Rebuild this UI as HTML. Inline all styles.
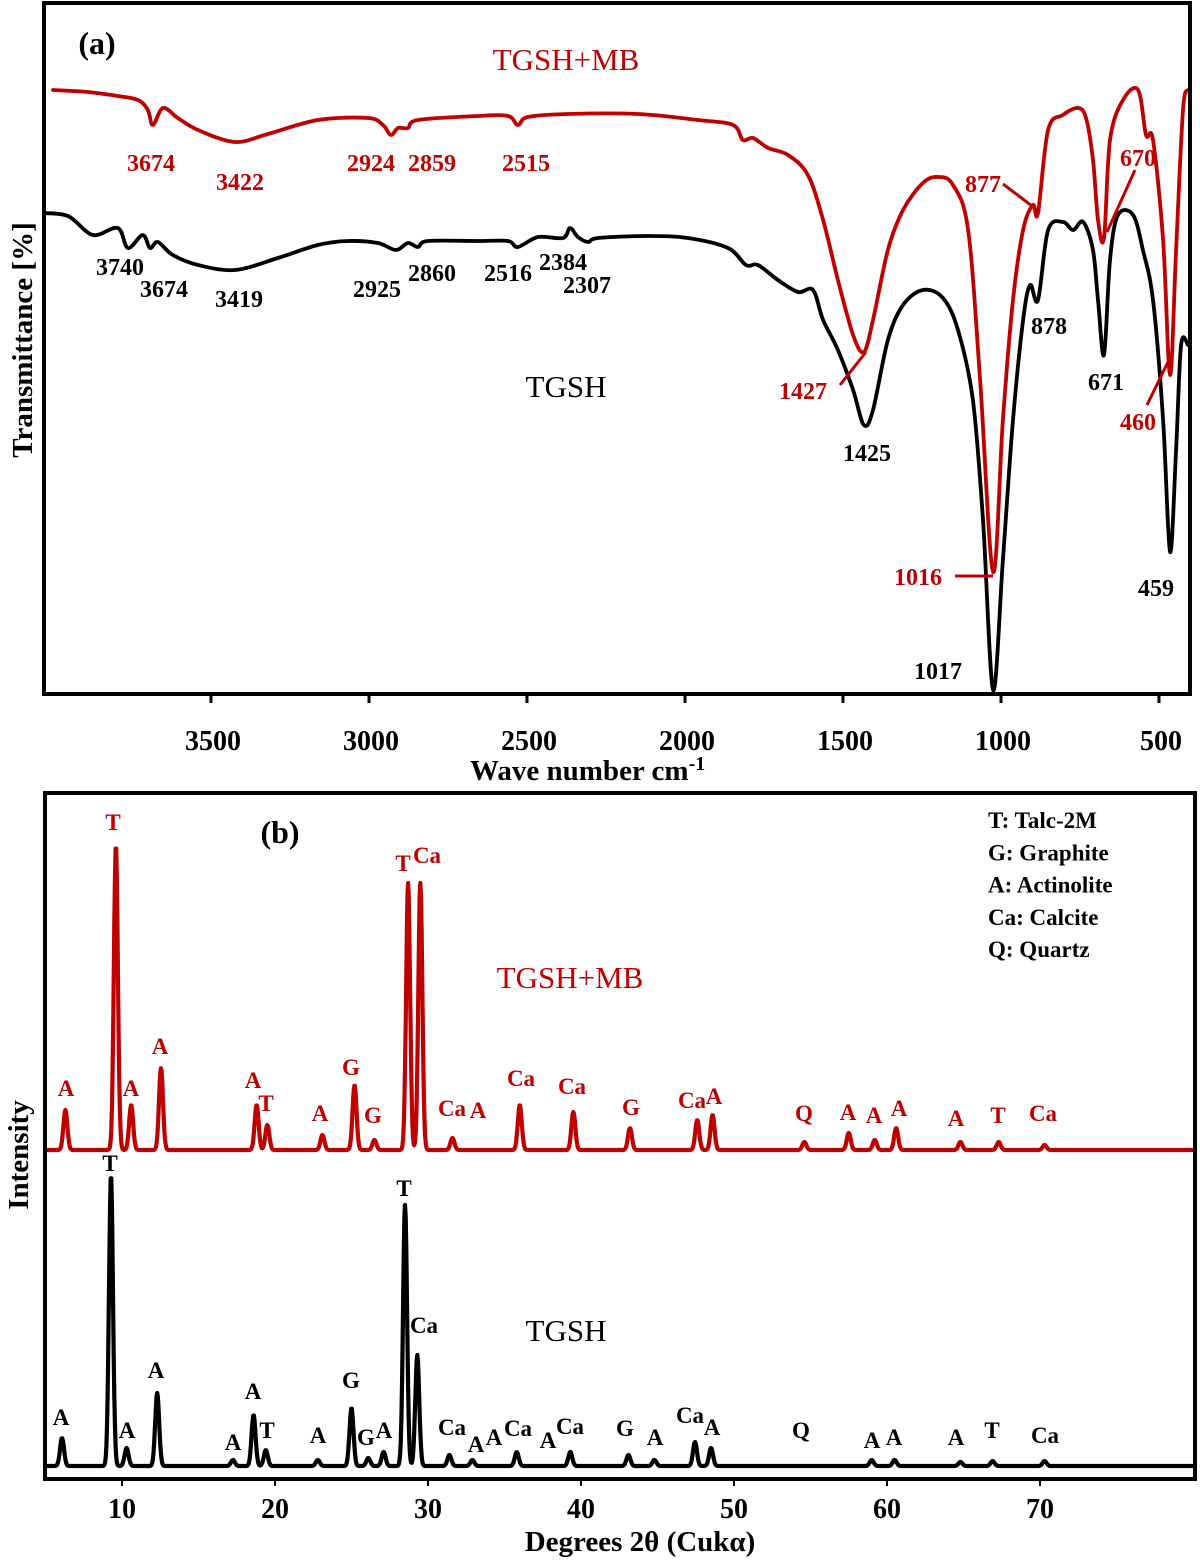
<!DOCTYPE html>
<html><head><meta charset="utf-8"><style>
body{margin:0;background:#fff;}
svg{display:block;font-family:"Liberation Serif",serif;}
</style></head><body>
<svg id="chart" width="1200" height="1563" viewBox="0 0 1200 1563" xmlns="http://www.w3.org/2000/svg">
<g id="pa"></g>
<g id="pb"></g>
</svg>
<script>
// ---- FTIR data (panel a) ----
const ftirTicks = [3500, 3000, 2500, 2000, 1500, 1000, 500];
const tgshWave = [4042,3953,3874,3795,3763,3716,3693,3668,3621,3541,3424,3288,3162,3067,2972,2915,2877,2845,2814,2655,2560,2529,2465,2386,2364,2339,2307,2275,2117,1991,1864,1807,1769,1706,1642,1595,1563,1516,1468,1434,1405,1358,1310,1247,1184,1136,1089,1057,1025,994,962,930,908,883,851,804,772,740,709,693,674,655,630,582,551,519,487,465,446,430,408];
const tgshTrans = [487,484,465,472,452,465,452,458,445,435,430,442,455,459,457,450,457,453,459,459,459,453,463,462,472,463,458,462,464,462,452,435,435,420,408,410,380,350,310,275,290,360,395,410,402,370,300,180,10,140,280,380,415,400,470,478,470,478,450,400,345,440,485,485,450,400,280,148,250,355,355];
const mbWave = [4000,3890,3795,3731,3700,3684,3652,3605,3541,3424,3320,3162,3003,2956,2931,2908,2877,2845,2655,2560,2529,2497,2370,2149,1959,1848,1817,1785,1737,1674,1611,1563,1516,1468,1434,1405,1358,1310,1247,1199,1152,1104,1066,1025,994,962,930,899,883,851,804,756,731,709,693,674,655,614,566,541,519,487,465,446,424,408];
const mbTrans = [610,608,604,600,590,575,592,582,570,558,566,580,582,575,565,572,572,580,584,584,575,583,586,586,580,575,560,562,552,545,525,480,420,365,348,380,450,490,517,523,515,470,320,128,280,400,470,495,487,570,585,592,582,540,480,462,560,600,610,565,560,460,325,450,590,610];

// ---- XRD data (panel b) ----
const xrdTicks = [10, 20, 30, 40, 50, 60, 70];
const mbPeakPos = [6.3,9.6,10.6,12.55,18.8,19.5,23.1,25.2,26.5,28.7,29.5,31.6,36.0,39.5,43.2,47.6,48.6,54.6,57.5,59.2,60.6,64.8,67.3,70.3];
const mbPeakInt = [40,305,45,82,45,25,15,65,10,267,267,12,45,38,22,30,35,8,17,10,22,8,8,5];
const tgshPeakPos = [6.08,9.28,10.3,12.3,17.25,18.6,19.4,22.8,25.0,26.1,27.1,28.5,29.3,31.4,32.9,35.8,39.3,43.1,44.8,47.45,48.5,59.0,60.5,64.8,66.9,70.3];
const tgshPeakInt = [28,291,18,73,6,51,16,6,58,8,14,261,111,11,6,14,14,11,6,24,18,6,6,4,5,5];

const NS = "http://www.w3.org/2000/svg";
function mk(parent, tag, attrs, text){
  const e = document.createElementNS(NS, tag);
  for (const k in attrs) e.setAttribute(k, attrs[k]);
  if (text !== undefined) e.textContent = text;
  parent.appendChild(e);
  return e;
}
const pa = document.getElementById('pa');
const pb = document.getElementById('pb');

const xA = w => 1001 + (1000 - w) * 0.316;
const yA = v => 700 - v;
const RED = '#c00000';

let fr = mk(pa, 'rect', {x:44, y:3, width:1146, height:691, fill:'none', stroke:'#000', 'stroke-width':4});



ftirTicks.forEach(t => {
  const tk = mk(pa, 'line', {x1:xA(t), x2:xA(t), y1:694, y2:703, stroke:'#000', 'stroke-width':3});
  
  
  const lb = mk(pa, 'text', {x:xA(t)+2, y:750, 'text-anchor':'middle', 'font-size':28, 'font-weight':'bold'}, String(t));
  
  
});

function smoothLine(parent, xs, ys, fx, fy, color, name, width){
  const P = xs.map((x,i)=>[fx(x), fy(ys[i])]);
  let d = 'M' + P[0][0].toFixed(1) + ',' + P[0][1].toFixed(1);
  for (let i=0;i<P.length-1;i++){
    const p0=P[Math.max(0,i-1)], p1=P[i], p2=P[i+1], p3=P[Math.min(P.length-1,i+2)];
    const c1=[p1[0]+(p2[0]-p0[0])/6, p1[1]+(p2[1]-p0[1])/6];
    const c2=[p2[0]-(p3[0]-p1[0])/6, p2[1]-(p3[1]-p1[1])/6];
    d += ' C'+c1[0].toFixed(1)+','+c1[1].toFixed(1)+' '+c2[0].toFixed(1)+','+c2[1].toFixed(1)+' '+p2[0].toFixed(1)+','+p2[1].toFixed(1);
  }
  const p = mk(parent, 'path', {d:d, fill:'none', stroke:color, 'stroke-width':width||3.8, 'stroke-linejoin':'round', 'stroke-linecap':'round'});
  
  
}
function line(parent, xs, ys, fx, fy, color, name, width){
  const pts = xs.map((x,i)=> fx(x).toFixed(1)+','+fy(ys[i]).toFixed(1)).join(' ');
  const p = mk(parent, 'polyline', {points:pts, fill:'none', stroke:color, 'stroke-width':width||3.8, 'stroke-linejoin':'round', 'stroke-linecap':'round'});
  
  
}
const clipA = mk(pa, 'clipPath', {id:'ca'}); mk(clipA, 'rect', {x:46, y:5, width:1142, height:687});
const ga = mk(pa, 'g', {'clip-path':'url(#ca)'});


smoothLine(ga, tgshWave, tgshTrans, xA, yA, '#000', 'tgsh-ftir-line');
smoothLine(ga, mbWave, mbTrans, xA, yA, RED, 'tgsh-mb-ftir-line');

function txt(parent, x, y, s, size, color, weight, name, anchor){
  const t = mk(parent, 'text', {x:x, y:y, 'text-anchor':anchor||'middle', 'font-size':size, fill:color, 'font-weight':weight||'bold'}, s);
  
  
  return t;
}
txt(pa, 97, 54, '(a)', 32, '#000', 'bold', 'panel-label-a');
txt(pa, 566, 70, 'TGSH+MB', 31, RED, 'normal', 'series-label-tgsh-mb');
txt(pa, 566, 397, 'TGSH', 31, '#000', 'normal', 'series-label-tgsh');
const yt = txt(pa, 0, 0, 'Transmittance [%]', 29, '#000', 'bold', 'y-axis-title');
yt.setAttribute('transform', 'translate(32,340) rotate(-90)');
const xt = mk(pa, 'text', {x:470, y:780, 'text-anchor':'start', 'font-size':29, 'font-weight':'bold'});


xt.innerHTML = 'Wave number cm<tspan dy="-10" font-size="20">-1</tspan>';

const redLab = [['3674',151,171],['3422',240,190],['2924',371,171],['2859',432,171],['2515',526,171],['877',983,192],['670',1138,166],['1427',803,399],['1016',918,585],['460',1138,430]];
redLab.forEach(l => txt(pa, l[1], l[2], l[0], 24, RED, 'bold', 'peak-label-mb-'+l[0]));
const blkLab = [['3740',120,275],['3674',164,297],['3419',239,307],['2925',377,297],['2860',432,281],['2516',508,281],['2384',563,270],['2307',587,293],['878',1049,334],['671',1106,390],['1425',867,461],['459',1156,596],['1017',938,679]];
blkLab.forEach(l => txt(pa, l[1], l[2], l[0], 24, '#000', 'bold', 'peak-label-tgsh-'+l[0]));
[[1003,184,1040,212],[1135,170,1107,232],[840,385,866,352],[955,576,993,576],[1147,405,1168,362]].forEach(s=>{
  const l = mk(pa, 'line', {x1:s[0], y1:s[1], x2:s[2], y2:s[3], stroke:RED, 'stroke-width':3});
  
  
});

// XRD axes
const xB = d => 122 + (d - 10) * 15.3;
let fb = mk(pb, 'rect', {x:45, y:793, width:1150, height:686, fill:'none', stroke:'#000', 'stroke-width':4});


xrdTicks.forEach(t => {
  const tk = mk(pb, 'line', {x1:xB(t), x2:xB(t), y1:1479, y2:1486, stroke:'#000', 'stroke-width':2});
  
  
  const lb = mk(pb, 'text', {x:xB(t), y:1518, 'text-anchor':'middle', 'font-size':28, 'font-weight':'bold'}, String(t));
  
  
});
const clipB = mk(pb, 'clipPath', {id:'cb'}); mk(clipB, 'rect', {x:47, y:795, width:1146, height:682});
const gb = mk(pb, 'g', {'clip-path':'url(#cb)'});


function xrdInto(g,pos,ints,base,color,name){
  const xs=[], ys=[];
  for (let d=4.9; d<=80.2; d+=0.04){
    let s=0;
    for (let i=0;i<pos.length;i++){ const z=(d-pos[i])/0.13; s+=ints[i]*Math.exp(-0.5*z*z); }
    xs.push(d); ys.push(s);
  }
  line(g, xs, ys, xB, v => base - v, color, name, 4.2);
}
xrdInto(gb, mbPeakPos, mbPeakInt, 1150, RED, 'tgsh-mb-xrd-line');
xrdInto(gb, tgshPeakPos, tgshPeakInt, 1466, '#000', 'tgsh-xrd-line');

txt(pb, 280, 843, '(b)', 32, '#000', 'bold', 'panel-label-b');
txt(pb, 570, 988, 'TGSH+MB', 31, RED, 'normal', 'series-label-tgsh-mb');
txt(pb, 566, 1341, 'TGSH', 31, '#000', 'normal', 'series-label-tgsh');
['T: Talc-2M','G: Graphite','A: Actinolite','Ca: Calcite','Q: Quartz'].forEach((s,i)=>
  txt(pb, 988, 828+i*32.3, s, 23, '#000', 'bold', 'legend-entry', 'start'));
const it = txt(pb, 0, 0, 'Intensity', 29, '#000', 'bold', 'y-axis-title');
it.setAttribute('transform', 'translate(28,1155) rotate(-90)');
txt(pb, 640, 1551, 'Degrees 2θ (Cukα)', 29, '#000', 'bold', 'x-axis-title');

const mbLab = [['T',113,822],['A',66,1088],['A',131,1088],['A',160,1046],['A',253,1080],['T',266,1103],['A',320,1113],['G',351,1067],['G',373,1115],['T',403,863],['Ca',427,855],['Ca',452,1108],['A',478,1110],['Ca',521,1078],['Ca',572,1086],['G',631,1107],['Ca',692,1100],['A',714,1096],['Q',804,1113],['A',848,1112],['A',874,1115],['A',899,1108],['A',956,1118],['T',998,1115],['Ca',1043,1113]];
mbLab.forEach(l => txt(pb, l[1], l[2]+8, l[0], 23, RED, 'bold', 'phase-label-mb'));
const tLab = [['T',110,1163],['A',61,1417],['A',127,1430],['A',156,1370],['A',233,1442],['A',253,1391],['T',267,1430],['A',318,1435],['G',351,1380],['G',366,1437],['A',384,1430],['T',404,1188],['Ca',424,1325],['Ca',452,1427],['A',476,1444],['A',494,1437],['Ca',518,1428],['A',548,1440],['Ca',570,1426],['G',625,1428],['A',655,1437],['Ca',690,1415],['A',712,1427],['Q',801,1430],['A',872,1440],['A',894,1437],['A',956,1437],['T',992,1430],['Ca',1045,1435]];
tLab.forEach(l => txt(pb, l[1], l[2]+8, l[0], 23, '#000', 'bold', 'phase-label-tgsh'));
</script>
</body></html>
